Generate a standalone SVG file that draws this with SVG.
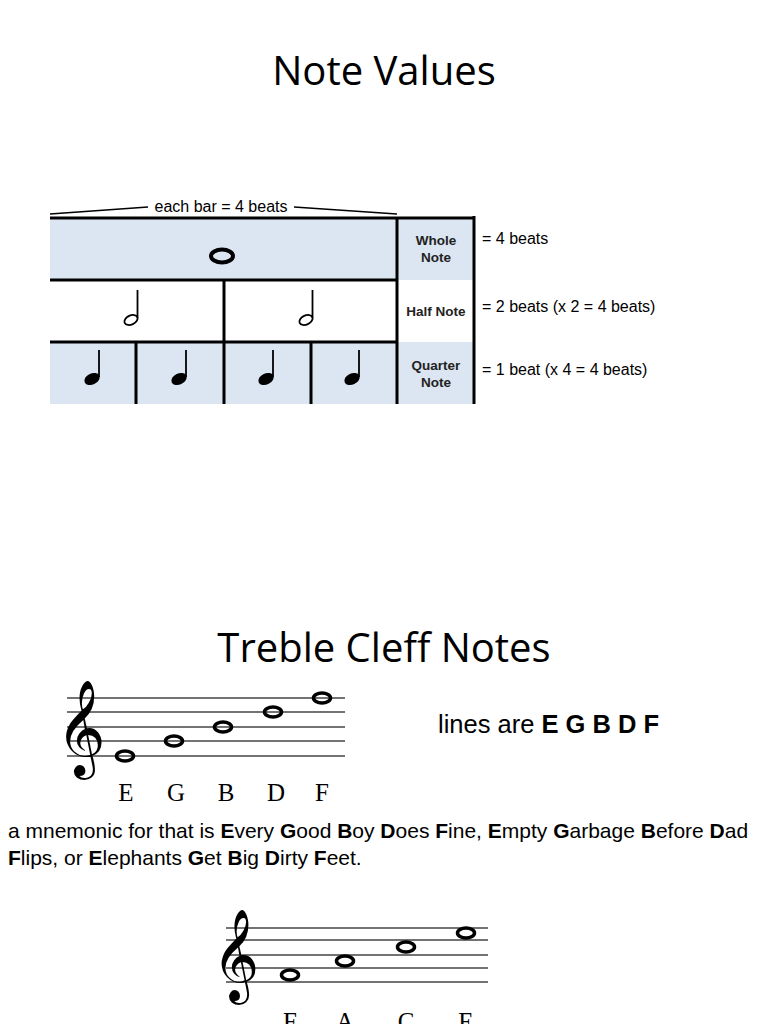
<svg xmlns="http://www.w3.org/2000/svg" width="768" height="1024" viewBox="0 0 768 1024">
<style>
.title{font-family:"Open Sans","Liberation Sans",sans-serif;font-size:40px;fill:#000;text-anchor:middle}
.t{font-family:"Liberation Sans",Arial,sans-serif;fill:#000}
.lab{font-family:"Liberation Sans",Arial,sans-serif;font-weight:bold;font-size:13.5px;fill:#222;text-anchor:middle}
.g{stroke:#000;stroke-width:3}
.staff{stroke:#444;stroke-width:1.5}
.ser{font-family:"Liberation Serif","Times New Roman",serif;font-size:25px;text-anchor:middle}
.clef{font-family:"DejaVu Sans",sans-serif;fill:#000}
</style>
<rect width="768" height="1024" fill="#fff"/>
<text class="title" x="384" y="85">Note Values</text>
<g id="table">
<rect x="50" y="218" width="424" height="62" fill="#dce6f2"/>
<rect x="50" y="342" width="424" height="62" fill="#dce6f2"/>
<polyline points="50,214 148,207" fill="none" stroke="#000" stroke-width="1.5"/>
<polyline points="294,207 397,214" fill="none" stroke="#000" stroke-width="1.5"/>
<text class="t" x="221" y="212" font-size="16" text-anchor="middle">each bar = 4 beats</text>
<line class="g" x1="50" y1="218" x2="474" y2="218"/>
<line class="g" x1="50" y1="280" x2="397" y2="280"/>
<line class="g" x1="50" y1="342" x2="397" y2="342"/>
<line class="g" x1="397" y1="218" x2="397" y2="404"/>
<line class="g" x1="474" y1="216" x2="474" y2="404"/>
<line class="g" x1="224" y1="280" x2="224" y2="342"/>
<line class="g" x1="136" y1="342" x2="136" y2="404"/>
<line class="g" x1="224" y1="342" x2="224" y2="404"/>
<line class="g" x1="311" y1="342" x2="311" y2="404"/>
<ellipse cx="222" cy="256" rx="11" ry="6.5" fill="none" stroke="#000" stroke-width="4"/>
<g fill="none" stroke="#000" stroke-width="1.8">
<ellipse cx="131" cy="320" rx="7" ry="4.5" transform="rotate(-25 131 320)"/>
<line x1="137.5" y1="318" x2="137.5" y2="290"/>
<ellipse cx="306" cy="320" rx="7" ry="4.5" transform="rotate(-25 306 320)"/>
<line x1="312.5" y1="318" x2="312.5" y2="290"/>
<line x1="99" y1="377" x2="99" y2="350"/>
<line x1="186" y1="377" x2="186" y2="350"/>
<line x1="273" y1="377" x2="273" y2="350"/>
<line x1="359" y1="377" x2="359" y2="350"/>
</g>
<g fill="#000">
<ellipse cx="92" cy="379" rx="8" ry="5.5" transform="rotate(-25 92 379)"/>
<ellipse cx="179" cy="379" rx="8" ry="5.5" transform="rotate(-25 179 379)"/>
<ellipse cx="266" cy="379" rx="8" ry="5.5" transform="rotate(-25 266 379)"/>
<ellipse cx="352" cy="379" rx="8" ry="5.5" transform="rotate(-25 352 379)"/>
</g>
<text class="lab" x="436" y="245">Whole</text>
<text class="lab" x="436" y="262">Note</text>
<text class="lab" x="436" y="316">Half Note</text>
<text class="lab" x="436" y="370">Quarter</text>
<text class="lab" x="436" y="387">Note</text>
<text class="t" x="482" y="244" font-size="16">= 4 beats</text>
<text class="t" x="482" y="312" font-size="16">= 2 beats (x 2 = 4 beats)</text>
<text class="t" x="482" y="375" font-size="16">= 1 beat (x 4 = 4 beats)</text>
</g>
<text class="title" x="384" y="662">Treble Cleff Notes</text>
<g id="staff1">
<line class="staff" x1="67" y1="698" x2="345" y2="698"/>
<line class="staff" x1="67" y1="712" x2="345" y2="712"/>
<line class="staff" x1="67" y1="727" x2="345" y2="727" stroke-width="2.5"/>
<line class="staff" x1="67" y1="741" x2="345" y2="741"/>
<line class="staff" x1="67" y1="756" x2="345" y2="756" stroke-width="2.5"/>
<text class="clef" x="56" y="756" font-size="84">𝄞</text>
<g fill="none" stroke="#000" stroke-width="3.5">
<ellipse cx="125" cy="756" rx="8.5" ry="5"/>
<ellipse cx="174" cy="741" rx="8.5" ry="5"/>
<ellipse cx="223" cy="727" rx="8.5" ry="5"/>
<ellipse cx="273" cy="712" rx="8.5" ry="5"/>
<ellipse cx="322" cy="698" rx="8.5" ry="5"/>
</g>
<text class="ser" x="126" y="801">E</text>
<text class="ser" x="176" y="801">G</text>
<text class="ser" x="226" y="801">B</text>
<text class="ser" x="276" y="801">D</text>
<text class="ser" x="322" y="801">F</text>
</g>
<text class="t" x="438" y="733" font-size="25.5">lines are <tspan font-weight="bold">E G B D F</tspan></text>
<text class="t" x="8" y="838" font-size="21">a mnemonic for that is <tspan font-weight="bold">E</tspan>very <tspan font-weight="bold">G</tspan>ood <tspan font-weight="bold">B</tspan>oy <tspan font-weight="bold">D</tspan>oes <tspan font-weight="bold">F</tspan>ine, <tspan font-weight="bold">E</tspan>mpty <tspan font-weight="bold">G</tspan>arbage <tspan font-weight="bold">B</tspan>efore <tspan font-weight="bold">D</tspan>ad</text>
<text class="t" x="8" y="865" font-size="21"><tspan font-weight="bold">F</tspan>lips, or <tspan font-weight="bold">E</tspan>lephants <tspan font-weight="bold">G</tspan>et <tspan font-weight="bold">B</tspan>ig <tspan font-weight="bold">D</tspan>irty <tspan font-weight="bold">F</tspan>eet.</text>
<g id="staff2">
<line class="staff" x1="226" y1="928" x2="488" y2="928"/>
<line class="staff" x1="226" y1="940" x2="488" y2="940"/>
<line class="staff" x1="226" y1="955" x2="488" y2="955"/>
<line class="staff" x1="226" y1="968" x2="488" y2="968"/>
<line class="staff" x1="226" y1="982" x2="488" y2="982"/>
<text class="clef" x="212" y="982" font-size="80">𝄞</text>
<g fill="none" stroke="#000" stroke-width="3.5">
<ellipse cx="290" cy="975" rx="8.5" ry="5"/>
<ellipse cx="345" cy="961" rx="8.5" ry="5"/>
<ellipse cx="406" cy="947" rx="8.5" ry="5"/>
<ellipse cx="466" cy="933" rx="8.5" ry="5"/>
</g>
<text class="ser" x="290" y="1030">F</text>
<text class="ser" x="345" y="1030">A</text>
<text class="ser" x="406" y="1030">C</text>
<text class="ser" x="466" y="1030">E</text>
</g>
</svg>
